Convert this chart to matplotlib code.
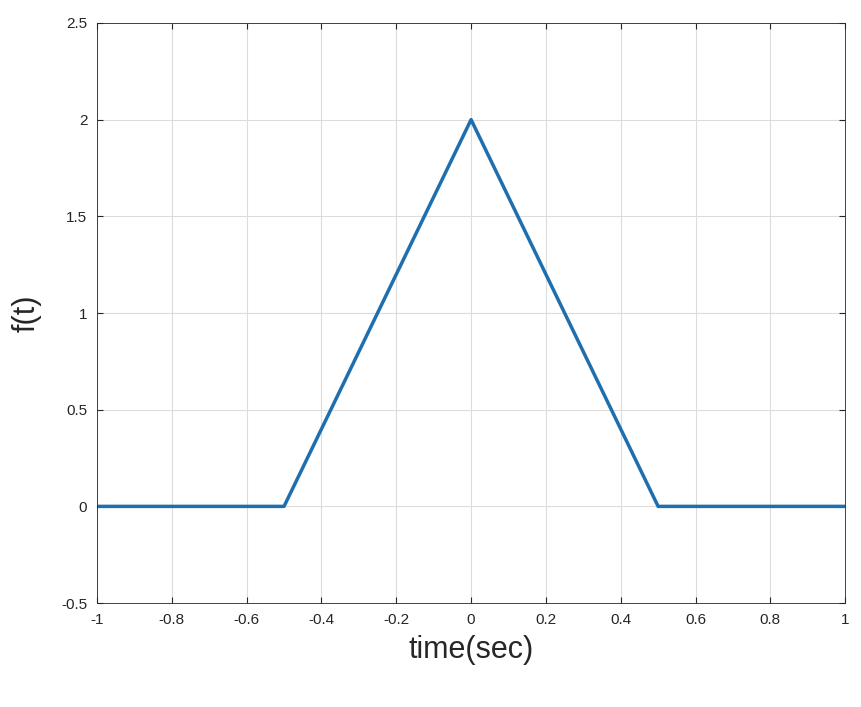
import matplotlib.pyplot as plt

plt.rcParams["font.family"] = ["Liberation Sans", "DejaVu Sans"]

# triangle pulse breakpoints
t = [-1.0, -0.5, 0.0, 0.5, 1.0]
f = [0.0, 0.0, 2.0, 0.0, 0.0]

xticks = [-1, -0.8, -0.6, -0.4, -0.2, 0, 0.2, 0.4, 0.6, 0.8, 1]
xlabels = ["-1", "-0.8", "-0.6", "-0.4", "-0.2", "0", "0.2", "0.4", "0.6", "0.8", "1"]
yticks = [-0.5, 0, 0.5, 1, 1.5, 2, 2.5]
ylabels = ["-0.5", "0", "0.5", "1", "1.5", "2", "2.5"]

fig = plt.figure(figsize=(8.62, 7.07), dpi=100)
ax = fig.add_axes([0.1125, 0.147, 0.868, 0.8205])

ax.plot(t, f, color="#1f6fae", linewidth=2.5)

ax.set_xlim(-1, 1)
ax.set_ylim(-0.5, 2.5)
ax.set_xticks(xticks, xlabels)
ax.set_yticks(yticks, ylabels)
ax.tick_params(labelsize=11, colors="#262626", direction="in", length=4,
               top=True, right=True, pad=7)
ax.grid(True, color="#dcdcdc", linewidth=0.8)
for s in ax.spines.values():
    s.set_color("#262626")
    s.set_linewidth(0.6)

ax.set_xlabel("time(sec)", fontsize=22, color="#262626", labelpad=6)
ax.set_ylabel("f(t)", fontsize=22, color="#262626", labelpad=14)

fig.savefig("out.png", dpi=100)
